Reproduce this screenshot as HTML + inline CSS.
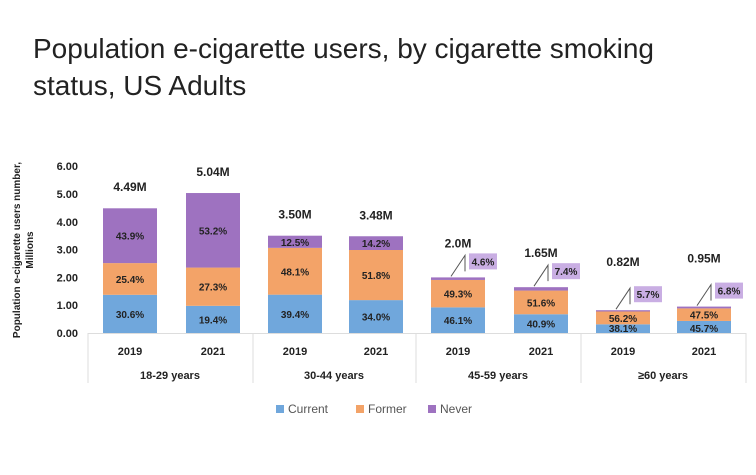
<!DOCTYPE html>
<html><head><meta charset="utf-8"><style>
body{margin:0;background:#fff;width:756px;height:475px;overflow:hidden;font-family:"Liberation Sans",sans-serif}
.t{position:absolute;left:33px;top:30px;font-size:28px;line-height:37px;color:#222;}
</style></head><body>
<div class="t">Population e-cigarette users, by cigarette smoking<br>status, US Adults</div>
<svg id="s" width="756" height="475" style="position:absolute;left:0;top:0" font-family="Liberation Sans, sans-serif"></svg>
<script>
var s=document.getElementById('s'),h='';
var y0=333,k=27.8;
for(var i=0;i<=6;i++){h+='<text x="78" y="'+(y0-i*k+4)+'" font-size="11" font-weight="bold" text-anchor="end" fill="#222">'+i.toFixed(2)+'</text>';}
h+='<text transform="translate(20,250) rotate(-90)" font-size="10" font-weight="bold" text-anchor="middle" fill="#222">Population e-cigarette users number,</text>';
h+='<text transform="translate(33,250) rotate(-90)" font-size="10" font-weight="bold" text-anchor="middle" fill="#222">Millions</text>';
var d=[[103,4.49,30.6,25.4,43.9,'4.49M',0],[186,5.04,19.4,27.3,53.2,'5.04M',0],[268,3.50,39.4,48.1,12.5,'3.50M',0],[349,3.48,34.0,51.8,14.2,'3.48M',0],
[431,2.0,46.1,49.3,4.6,'2.0M',1],[514,1.65,40.9,51.6,7.4,'1.65M',1],[596,0.82,38.1,56.2,5.7,'0.82M',1],[677,0.95,45.7,47.5,6.8,'0.95M',1]];
var cols=['#70A7DC','#F3A368','#9E72C0'];
d.forEach(function(b){var x=b[0],w=54,y=y0;
 for(var j=0;j<3;j++){var hh=b[1]*b[2+j]/100*k;y-=hh;
  h+='<rect x="'+x+'" y="'+y+'" width="'+w+'" height="'+hh+'" fill="'+cols[j]+'"/>';
  if(j<2||!b[6]){var ty=y+hh/2+4; if(b[1]<1&&j==0)ty=y0-1;
   h+='<text x="'+(x+w/2)+'" y="'+ty+'" font-size="10" font-weight="bold" text-anchor="middle" fill="#222">'+b[2+j].toFixed(1)+'%</text>';}
  else{var bx=x+38,by=y-24;
   h+='<polyline points="'+(x+20)+','+(y-1)+' '+(x+34)+','+(by+2)+' '+(x+34)+','+(by+18)+'" fill="none" stroke="#555" stroke-width="1"/>';
   h+='<rect x="'+bx+'" y="'+by+'" width="28" height="16" fill="#C9AEE3"/>';
   h+='<text x="'+(bx+14)+'" y="'+(by+12)+'" font-size="10" font-weight="bold" text-anchor="middle" fill="#222">'+b[4].toFixed(1)+'%</text>';}
 }
 var top=y0-b[1]*k;var ly=b[6]?top-30:top-17; if(b[1]<1)ly=top-44;
 h+='<text x="'+(x+w/2)+'" y="'+ly+'" font-size="12" font-weight="bold" text-anchor="middle" fill="#222">'+b[5]+'</text>';
 h+='<text x="'+(x+w/2)+'" y="355" font-size="11" font-weight="bold" text-anchor="middle" fill="#222">'+(d.indexOf(b)%2?'2021':'2019')+'</text>';
});
h+='<line x1="88" y1="333.5" x2="746" y2="333.5" stroke="#ddd"/>';
[88,253,416,581,746].forEach(function(x){h+='<line x1="'+x+'" y1="333" x2="'+x+'" y2="383" stroke="#ddd"/>';});
['18-29 years','30-44 years','45-59 years','≥60 years'].forEach(function(t,i){var c=[170,334,498,663][i];
h+='<text x="'+c+'" y="379" font-size="11" font-weight="bold" text-anchor="middle" fill="#222">'+t+'</text>';});
[['Current',276],['Former',356],['Never',428]].forEach(function(l,i){
h+='<rect x="'+l[1]+'" y="405" width="8" height="8" fill="'+cols[i]+'"/><text x="'+(l[1]+12)+'" y="413" font-size="12" fill="#555">'+l[0]+'</text>';});
s.innerHTML=h;
</script>
</body></html>
